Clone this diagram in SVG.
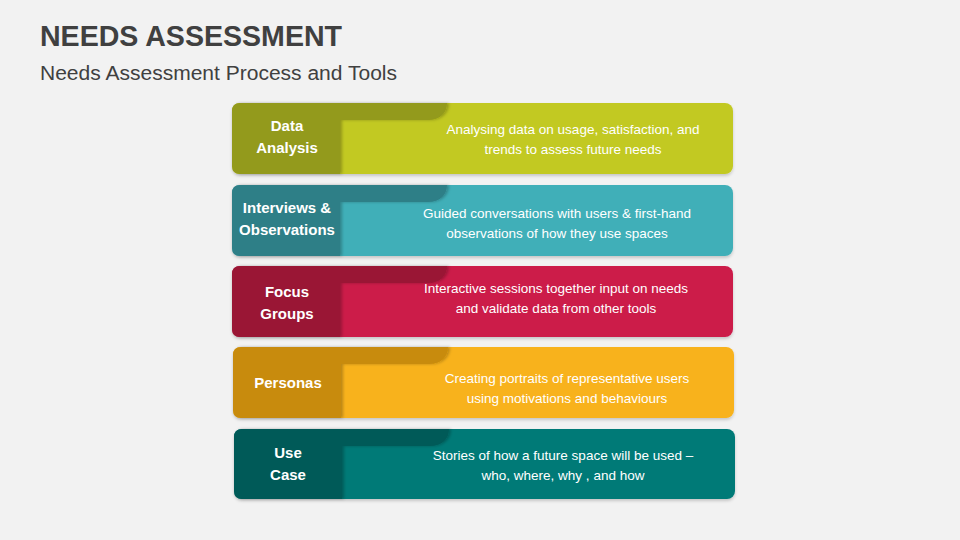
<svg xmlns="http://www.w3.org/2000/svg" width="960" height="540" viewBox="0 0 960 540">
<defs>
<filter id="sh" x="-5%" y="-20%" width="110%" height="150%">
<feDropShadow dx="0" dy="2" stdDeviation="1.5" flood-color="#000" flood-opacity="0.18"/>
</filter>
<filter id="sh2" x="-10%" y="-10%" width="130%" height="130%">
<feDropShadow dx="2" dy="0" stdDeviation="1.5" flood-color="#000" flood-opacity="0.25"/>
</filter>
<style>
.title{font-family:"Liberation Sans",Arial,sans-serif;font-weight:bold;font-size:30px;fill:#404040}
.sub{font-family:"Liberation Sans",Arial,sans-serif;font-size:20px;fill:#404040}
.lbl{font-family:"Liberation Sans",Arial,sans-serif;font-weight:bold;font-size:15px;fill:#fff;text-anchor:middle}
.desc{font-family:"Liberation Sans",Arial,sans-serif;font-size:13.5px;fill:#fff;text-anchor:middle}
</style>
</defs>
<rect width="960" height="540" fill="#f2f2f2"/>
<text class="title" x="40" y="46" textLength="302" lengthAdjust="spacingAndGlyphs">NEEDS ASSESSMENT</text>
<text class="sub" x="40" y="80" textLength="357" lengthAdjust="spacingAndGlyphs">Needs Assessment Process and Tools</text>

<g id="row1" transform="translate(232,103)">
<rect width="501" height="71" rx="8" fill="#c2c923" filter="url(#sh)"/>
<path d="M8 0 H215 C215 10 208 17 196 17 H108 V71 H8 Q0 71 0 63 V8 Q0 0 8 0 Z" fill="#939a1a" filter="url(#sh2)"/>
<text class="lbl" x="55" y="28">Data</text>
<text class="lbl" x="55" y="50">Analysis</text>
<text class="desc" x="341" y="31">Analysing data on usage, satisfaction, and</text>
<text class="desc" x="341" y="51">trends to assess future needs</text>
</g>

<g id="row2" transform="translate(232,185)">
<rect width="501" height="71" rx="8" fill="#40afb8" filter="url(#sh)"/>
<path d="M8 0 H215 C215 10 208 17 196 17 H108 V71 H8 Q0 71 0 63 V8 Q0 0 8 0 Z" fill="#2e7f87" filter="url(#sh2)"/>
<text class="lbl" x="55" y="28">Interviews &amp;</text>
<text class="lbl" x="55" y="50">Observations</text>
<text class="desc" x="325" y="33">Guided conversations with users &amp; first-hand</text>
<text class="desc" x="325" y="53">observations of how they use spaces</text>
</g>

<g id="row3" transform="translate(232,266)">
<rect width="501" height="71" rx="8" fill="#cc1a4a" filter="url(#sh)"/>
<path d="M8 0 H215 C215 10 208 17 196 17 H108 V71 H8 Q0 71 0 63 V8 Q0 0 8 0 Z" fill="#9a1535" filter="url(#sh2)"/>
<text class="lbl" x="55" y="31">Focus</text>
<text class="lbl" x="55" y="53">Groups</text>
<text class="desc" x="324" y="27">Interactive sessions together input on needs</text>
<text class="desc" x="324" y="47">and validate data from other tools</text>
</g>

<g id="row4" transform="translate(233,347)">
<rect width="501" height="71" rx="8" fill="#f8b21b" filter="url(#sh)"/>
<path d="M8 0 H215 C215 10 208 17 196 17 H108 V71 H8 Q0 71 0 63 V8 Q0 0 8 0 Z" fill="#c88b0a" filter="url(#sh2)"/>
<text class="lbl" x="55" y="41">Personas</text>
<text class="desc" x="334" y="36">Creating portraits of representative users</text>
<text class="desc" x="334" y="56">using motivations and behaviours</text>
</g>

<g id="row5" transform="translate(234,429)">
<rect width="501" height="70" rx="8" fill="#007a77" filter="url(#sh)"/>
<path d="M8 0 H215 C215 10 208 17 196 17 H108 V70 H8 Q0 70 0 62 V8 Q0 0 8 0 Z" fill="#005a58" filter="url(#sh2)"/>
<text class="lbl" x="54" y="29">Use</text>
<text class="lbl" x="54" y="51">Case</text>
<text class="desc" x="329" y="31">Stories of how a future space will be used –</text>
<text class="desc" x="329" y="51">who, where, why , and how</text>
</g>
</svg>
